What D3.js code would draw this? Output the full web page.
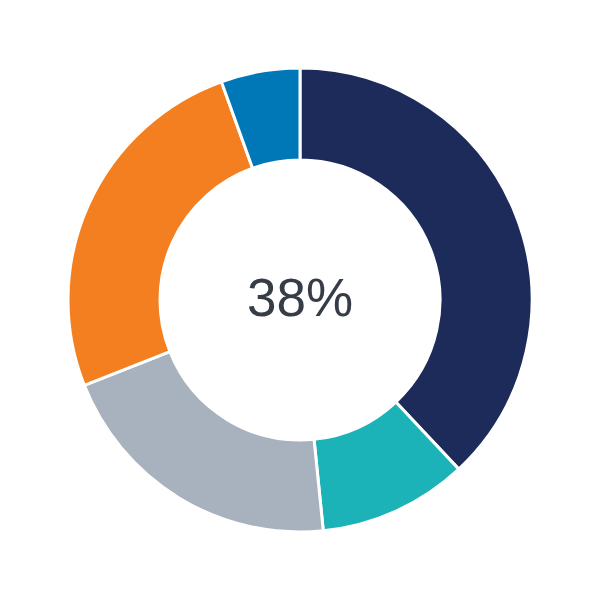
<!DOCTYPE html>
<html>
<head>
<meta charset="utf-8">
<script src="https://cdn.jsdelivr.net/npm/d3@7"></script>
<style>
  html, body { margin: 0; padding: 0; background: #ffffff; }
  svg { display: block; }
</style>
</head>
<body>
<svg id="chart" width="600" height="600"></svg>
<script>
const categories = ["A", "B", "C", "D", "E"];
const values = [38, 10.4, 20.6, 25.5, 5.5];
const colors = ["#1c2b5a", "#1bb3b8", "#a8b2bf", "#f47f20", "#0077b6"];
const centerLabel = "38%";

const svg = d3.select("#chart");
const g = svg.append("g").attr("transform", "translate(300,300)");

const data = categories.map((c, i) => ({ category: c, value: values[i] }));
const pie = d3.pie().value(d => d.value).sort(null);
const arc = d3.arc().innerRadius(140).outerRadius(232);
const color = d3.scaleOrdinal().domain(categories).range(colors);

g.selectAll("path")
  .data(pie(data))
  .join("path")
  .attr("d", arc)
  .attr("fill", d => color(d.data.category))
  .attr("stroke", "#ffffff")
  .attr("stroke-width", 3)
  .attr("stroke-linejoin", "miter");

g.append("text")
  .attr("x", 0)
  .attr("y", -3)
  .attr("dy", "0.35em")
  .attr("text-anchor", "middle")
  .attr("font-family", "'Liberation Sans', Arial, Helvetica, sans-serif")
  .attr("font-size", 53)
  .attr("fill", "#363d47")
  .text(centerLabel);
</script>
</body>
</html>
